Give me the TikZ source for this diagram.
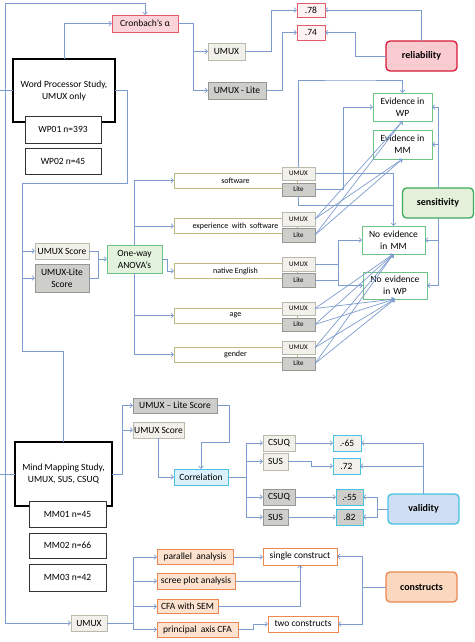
\documentclass[tikz,border=0pt]{standalone}
\usepackage{fontspec}
\setmainfont{Carlito}
\usetikzlibrary{arrows.meta}

\definecolor{linkblue}{RGB}{125,155,205}
\definecolor{redline}{RGB}{228,90,105}
\definecolor{redfill}{RGB}{250,212,216}
\definecolor{redpale}{RGB}{253,243,243}
\definecolor{relline}{RGB}{215,25,55}
\definecolor{relfill}{RGB}{250,203,208}
\definecolor{greenline}{RGB}{110,195,135}
\definecolor{anovafill}{RGB}{226,242,220}
\definecolor{sensline}{RGB}{60,170,90}
\definecolor{sensfill}{RGB}{228,240,218}
\definecolor{umuxline}{RGB}{185,185,172}
\definecolor{umuxfill}{RGB}{241,240,234}
\definecolor{liteline}{RGB}{150,150,146}
\definecolor{litefill}{RGB}{206,206,203}
\definecolor{factorline}{RGB}{190,185,130}
\definecolor{cyanline}{RGB}{70,195,225}
\definecolor{corrfill}{RGB}{218,240,250}
\definecolor{validfill}{RGB}{207,222,242}
\definecolor{orangeline}{RGB}{235,135,80}
\definecolor{orangefill}{RGB}{252,226,207}
\definecolor{consfill}{RGB}{250,216,192}

\begin{document}
\begin{tikzpicture}[x=1pt,y=-1pt,every text node part/.style={align=center},
    >={Straight Barb[length=2.5pt,width=4.5pt]},
    wh/.style 2 args={minimum width=#1pt,minimum height=#2pt}]
    \tikzstyle{box}=[draw,rectangle,inner sep=1pt,outer sep=0pt,
                     font=\fontsize{9.5}{12}\selectfont]
    \tikzstyle{study}=[box,line width=1.2pt,fill=white]
    \tikzstyle{sample}=[box,draw=black!80,line width=0.6pt,fill=white]
    \tikzstyle{umuxbox}=[box,draw=umuxline,fill=umuxfill]
    \tikzstyle{litebox}=[box,draw=liteline,fill=litefill]
    \tikzstyle{tiny}=[font=\fontsize{7}{8}\selectfont,wh={33}{13.5}]
    \tikzstyle{redbox}=[box,draw=redline,fill=redfill]
    \tikzstyle{greenbox}=[box,draw=greenline,fill=white]
    \tikzstyle{cyanbox}=[box,draw=cyanline]
    \tikzstyle{orangebox}=[box,draw=orangeline,fill=orangefill]
    \tikzstyle{factor}=[box,draw=factorline,fill=white,wh={123}{15},
                        font=\fontsize{8}{9}\selectfont]
    \tikzstyle{topic}=[box,rounded corners=4pt,line width=1.3pt,wh={71}{30},
                       font=\bfseries\fontsize{10}{12}\selectfont]
    \tikzstyle{wire}=[draw=linkblue,line width=0.7pt]
    \tikzstyle{link}=[wire,->]

    \useasboundingbox (0,0) rectangle (474,642);

    % reliability
    \node[redbox,wh={66}{17}] (cronbach) at (145,23.5) {Cronbach’s α};
    \node[umuxbox,wh={37}{17}] (relU) at (226.5,51.5) {UMUX};
    \node[litebox,wh={58}{17}] (relL) at (237,90.5) {UMUX - Lite};
    \node[redbox,fill=redpale,wh={28}{14}] (a78) at (311,10) {.78};
    \node[redbox,fill=redpale,wh={28}{15}] (a74) at (311,32.5) {.74};
    \node[topic,draw=relline,fill=relfill] (reli) at (421.5,56) {reliability};

    % word processor study
    \node[study,wh={102}{63}] (wp) at (64,90.5) {Word Processor Study,\\UMUX only};
    \node[sample,wh={76}{27}] (wp01) at (63,129.5) {WP01 n=393};
    \node[sample,wh={76}{26}] (wp02) at (63,161) {WP02 n=45};

    % scores and anova
    \node[umuxbox,wh={54}{16}] (score) at (62,251) {UMUX Score};
    \node[litebox,wh={54}{28}] (litescore) at (62,278) {UMUX-Lite\\Score};
    \node[box,draw=greenline,fill=anovafill,wh={55}{28}] (anova) at (134.5,259) {One-way\\ANOVA’s};

    % factors
    \foreach \name/\y/\label in {soft/180.5/software,
            exp/226/experience\ \ with\ \ software, nat/271/native English,
            age/315.5/age, gen/354.5/gender}{
        \node[factor] (\name) at (235.5,\y) {\label};
        \node[umuxbox,tiny] (\name-u) at (298.5,\y-7) {UMUX};
        \node[litebox,tiny] (\name-l) at (298.5,\y+9) {Lite};
    }

    % sensitivity
    \node[greenbox,wh={59}{28}] (evwp) at (402.5,107) {Evidence in\\WP};
    \node[greenbox,wh={59}{29}] (evmm) at (402.5,144.5) {Evidence in\\MM};
    \node[greenbox,text width=56pt,align=left,wh={63}{28}] (nomm) at (393.5,240) {No evidence\\in MM};
    \node[greenbox,text width=57pt,align=left,wh={64}{27}] (nowp) at (395,285.5) {No evidence\\in WP};
    \node[topic,draw=sensline,fill=sensfill] (sens) at (438,203) {sensitivity};

    % mind mapping study
    \node[study,wh={97}{64}] (mm) at (63.5,474) {Mind Mapping Study,\\UMUX, SUS, CSUQ};
    \node[sample,wh={77}{26}] (mm01) at (67.5,514) {MM01 n=45};
    \node[sample,wh={77}{25}] (mm02) at (67.5,545.5) {MM02 n=66};
    \node[sample,wh={77}{27}] (mm03) at (67.5,577.5) {MM03 n=42};

    % validity
    \node[litebox,wh={84}{15}] (mmlite) at (175,405.5) {UMUX – Lite Score};
    \node[umuxbox,wh={51}{16}] (mmscore) at (158.5,430) {UMUX Score};
    \node[cyanbox,fill=corrfill,wh={54}{16}] (corr) at (201,477) {Correlation};
    \node[umuxbox,wh={32}{16}] (csuq1) at (279,443) {CSUQ};
    \node[umuxbox,wh={25}{17}] (sus1) at (275.5,461.5) {SUS};
    \node[litebox,wh={32}{16}] (csuq2) at (279,497) {CSUQ};
    \node[litebox,wh={25}{16}] (sus2) at (275.5,517) {SUS};
    \node[cyanbox,fill=umuxfill,wh={28}{16}] (v65) at (347,443) {.-65};
    \node[cyanbox,fill=umuxfill,wh={27}{16}] (v72) at (346.5,466) {.72};
    \node[cyanbox,fill=litefill,wh={27}{16}] (v55) at (349.5,497) {.-55};
    \node[cyanbox,fill=litefill,wh={27}{16}] (v82) at (349.5,517) {.82};
    \node[topic,draw=cyanline,fill=validfill] (valid) at (423.5,509) {validity};

    % constructs
    \node[umuxbox,wh={36}{16}] (umux) at (89,623) {UMUX};
    \node[orangebox,wh={76}{15}] (pa) at (195,557) {parallel\ \ analysis};
    \node[orangebox,wh={78}{16}] (sp) at (196,581) {scree plot analysis};
    \node[orangebox,wh={61}{14}] (cfa) at (187.5,606.5) {CFA with SEM};
    \node[orangebox,wh={81}{15}] (pax) at (197.5,629.5) {principal\ \ axis CFA};
    \node[box,draw=orangeline,fill=white,wh={74}{17}] (single) at (300,556.5) {single construct};
    \node[box,draw=orangeline,fill=white,wh={70}{16}] (two) at (303,624) {two constructs};
    \node[topic,draw=orangeline,fill=consfill] (cons) at (421.5,587) {constructs};

    % left rail and study branches
    \draw[wire,<->] (cronbach.north) |- (5,3) |- (umux.west);
    \draw[wire] (0,90.5) -- (wp.west);
    \draw[wire] (0,474) -- (mm.west);
    \draw[link] (wp.north) |- (cronbach.west);
    \draw[wire] (wp.east) -| (127,183) -| (22,351) -| (mm.north);
    \draw[link] (22,251) -- (score.west);
    \draw[link] (22,278) -- (litescore.west);
    \draw[wire] (score.east) -| (98,278) -- (litescore.east);
    \draw[link] (98,259) -- (anova.west);

    % reliability edges
    \draw[link] (cronbach.east) -| (193,51.5) -- (relU.west);
    \draw[link] (193,51.5) |- (relL.west);
    \draw[link] (relU.east) -| (271,10) -- (a78.west);
    \draw[link] (relL.east) -| (282,32.5) -- (a74.west);
    \draw[link] (reli.north) |- (a78.east);
    \draw[link] (reli.west) -| (355,32.5) -- (a74.east);

    % anova edges
    \draw[link] (anova.north) |- (soft.west);
    \draw[link] (anova |- exp.west) -- (exp.west);
    \draw[link] (anova.south) |- (gen.west);
    \draw[link] (anova |- age.west) -- (age.west);
    \draw[link] (anova.east) -| ([xshift=-7pt]nat.west) -- (nat.west);

    % sensitivity edges
    \draw[link] (soft-u.north) |- (350,80) -| (evwp.north);
    \draw[link] (soft-l.east) -| (343,107) -- (evwp.west);
    \draw[link] (soft-u.east) -| (nomm.north);
    \draw[wire] (soft-l.south) |- (nomm.north |- 0,205);
    \foreach \s in {exp-u,exp-l}
        \foreach \t in {evwp,evmm}
            \draw[link] (\s.east) -- (\t.south);
    \draw[link] (nat-u.east) -| (338,240) -- (nomm.west);
    \draw[link] (nat-l.east) -| (338,285.5) -- (nowp.west);
    \draw[wire] (338,240) -- (338,285.5);
    \foreach \s in {age-u,age-l,gen-u,gen-l}
        \foreach \t in {nomm,nowp}
            \draw[link] (\s.east) -- (\t.south);
    \draw[link] (sens.north) |- (evwp.east);
    \draw[link] (sens |- evmm.east) -- (evmm.east);
    \draw[link] (sens.south) |- (nowp.east);
    \draw[link] (sens |- nomm.east) -- (nomm.east);

    % validity edges
    \draw[link] (mm.east) -| (122,405.5) -- (mmlite.west);
    \draw[link] (122,430) -- (mmscore.west);
    \draw[link] (mmscore.south) |- (corr.west);
    \draw[link] (mmlite.east) -| (229,442) -| (corr.north);
    \coordinate (cbus) at (246,477);
    \draw[wire] (corr.east) -- (cbus);
    \draw[wire] (cbus |- csuq1.west) -- (cbus |- sus2.west);
    \foreach \t in {csuq1,sus1,csuq2,sus2}
        \draw[link] (cbus |- \t.west) -- (\t.west);
    \draw[link] (csuq1.east) -- (v65.west);
    \draw[link] (sus1.east) -| (311,466) -- (v72.west);
    \draw[link] (csuq2.east) -- (v55.west);
    \draw[link] (sus2.east) -- (v82.west);
    \draw[link] (valid.north) |- (v65.east);
    \draw[link] (valid |- v72.east) -- (v72.east);
    \draw[wire] (valid.west) -- (377,509);
    \draw[link] (377,509) |- (v55.east);
    \draw[link] (377,509) |- (v82.east);

    % construct edges
    \coordinate (kbus) at (133,623);
    \draw[wire] (umux.east) -- (kbus);
    \draw[wire] (kbus |- pa.west) -- (kbus |- pax.west);
    \foreach \t in {pa,sp,cfa,pax}
        \draw[link] (kbus |- \t.west) -- (\t.west);
    \draw[link] (pa.east) -- (pa.east -| single.west);
    \draw[link] (cfa.east) -| (single.south);
    \draw[wire] (sp.east) -- (sp.east -| single.south);
    \draw[link] (pax.east) -| (253,624) -- (two.west);
    \draw[link] (cons.west) -| (362,556.5) -- (single.east);
    \draw[link] (362,587) |- (two.east);
\end{tikzpicture}
\end{document}
